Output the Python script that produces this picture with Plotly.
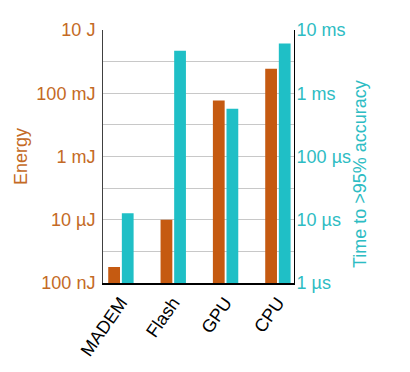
import plotly.graph_objects as go

categories = ["MADEM", "Flash", "GPU", "CPU"]
energy_J = [3.2e-7, 1.0e-5, 5.9e-2, 0.6]
time_s = [1.27e-5, 4.7e-3, 5.7e-4, 6.1e-3]

energy_tickvals = [1e-7, 1e-6, 1e-5, 1e-4, 1e-3, 1e-2, 1e-1, 1, 10]
energy_ticktext = ["100 nJ", "", "10 µJ", "", "1 mJ", "", "100 mJ", "", "10 J"]
time_tickvals = [1e-6, 1e-5, 1e-4, 1e-3, 1e-2]
time_ticktext = ["1 µs", "10 µs", "100 µs", "1 ms", "10 ms"]

ORANGE = "#C55A11"
TEAL = "#1FBFC6"
ORANGE_TXT = "#C46A25"
TEAL_TXT = "#2DBCC3"
FONT = "Liberation Sans, Arial, sans-serif"

fig = go.Figure()
fig.add_trace(go.Bar(x=categories, y=energy_J, marker=dict(color=ORANGE, line=dict(width=0)),
                     width=0.225, offset=-0.24, yaxis="y", name="Energy"))
fig.add_trace(go.Bar(x=categories, y=time_s, marker=dict(color=TEAL, line=dict(width=0)),
                     width=0.225, offset=0.02, yaxis="y2", name="Time"))

fig.update_layout(
    width=402, height=364,
    margin=dict(l=84, r=116, t=21, b=87),
    paper_bgcolor="white", plot_bgcolor="white",
    showlegend=False,
    font=dict(family=FONT, size=18),
    barmode="overlay",
    xaxis=dict(range=[-0.34, 3.31], tickangle=-55, tickfont=dict(color="black", size=18, family=FONT),
               showline=True, linecolor="black", linewidth=2, ticks="", showgrid=False),
    yaxis=dict(type="log", range=[-7, 1], tickvals=energy_tickvals, ticktext=energy_ticktext,
               tickfont=dict(color=ORANGE_TXT, size=18), showgrid=True, gridcolor="#C8C8C8", gridwidth=1,
               showline=True, linecolor="#404040", linewidth=1, ticks="", ticklabelstandoff=3,
               title=dict(text="Energy", font=dict(color=ORANGE_TXT, size=18), standoff=4)),
    yaxis2=dict(type="log", range=[-6, -2], overlaying="y", side="right", tickvals=time_tickvals,
                ticktext=time_ticktext, tickfont=dict(color=TEAL_TXT, size=18), showgrid=False,
                showline=True, linecolor="black", linewidth=1, ticks="", ticklabelstandoff=-2),
    annotations=[dict(text="Time to >95% accuracy", xref="paper", yref="paper", x=1.345, y=0.43,
                      xanchor="center", yanchor="middle", textangle=-90, showarrow=False,
                      font=dict(color=TEAL_TXT, size=18, family=FONT))],
)

fig.write_html("out.html")
